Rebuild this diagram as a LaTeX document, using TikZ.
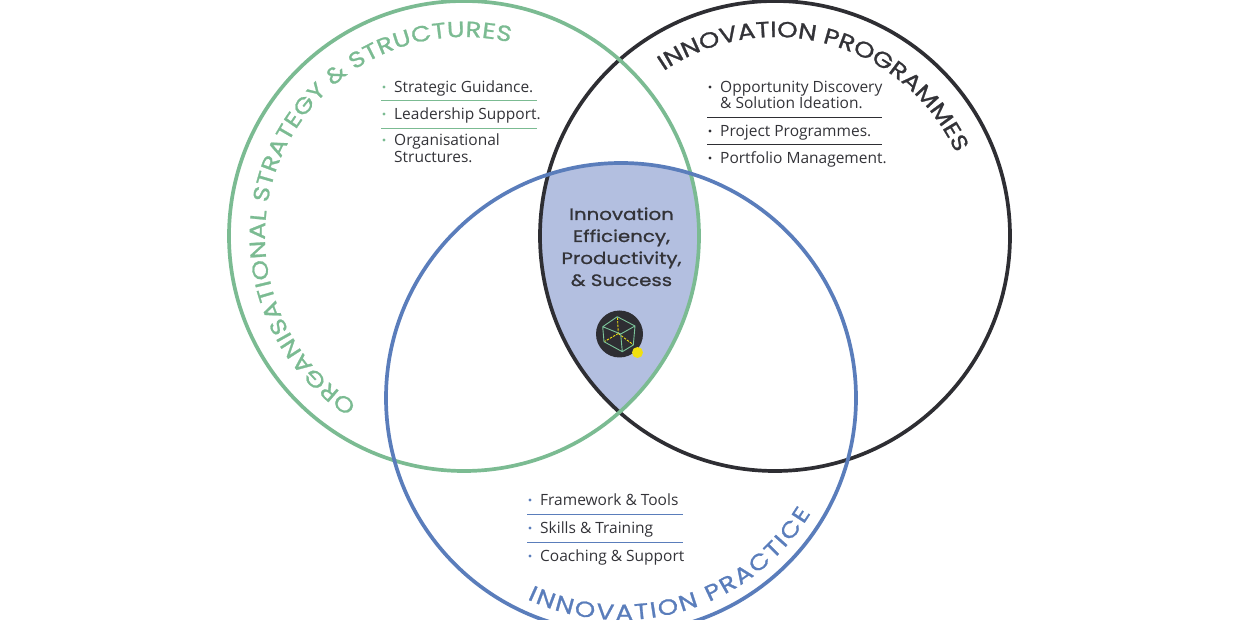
\documentclass[tikz,border=0pt]{standalone}
\usepackage{fontspec}
\setmainfont{Open Sans}
\newfontfamily\headfont[FakeStretch=1.19,FakeBold=1.1]{Poppins}
\newfontfamily\midfont[FakeStretch=1.2,FakeBold=0.9]{Poppins}
\usetikzlibrary{decorations.text}
\definecolor{cgreen}{HTML}{7BBB92}
\definecolor{cdark}{HTML}{2E2E33}
\definecolor{cblue}{HTML}{5A7DBB}
\definecolor{cfill}{HTML}{B3BFE0}
\definecolor{ctext}{HTML}{333338}
\definecolor{ccube}{HTML}{7BC49A}
\definecolor{cyel}{HTML}{F0E010}
\tikzset{
  x=1pt,y=-1pt,
  ring/.style={draw=#1,line width=3.7pt,circle,minimum size=470pt,inner sep=0pt},
  item/.style={anchor=base west,inner sep=0pt,font=\fontsize{15.5}{16}\selectfont,text=ctext,align=left},
  mid/.style={anchor=base,inner sep=0pt,font=\midfont\fontsize{16.5}{16}\selectfont,text=ctext,align=center},
  bul/.style={circle,fill=#1,minimum size=3.4pt,inner sep=0pt},
  rule/.style={draw=#1,line width=.9pt},
  arch/.style={decorate,decoration={text along path,text align=fit to path,text={#1}}},
  cubeline/.style={draw=ccube,line width=.9pt,line join=round},
  cubeaxis/.style={draw=cyel,line width=.9pt,dash pattern=on 2.4pt off 1.2pt},
}
\begin{document}
\begin{tikzpicture}
\useasboundingbox (0,0) rectangle (1240,620);
\coordinate (G) at (464,236);
\coordinate (D) at (775,236);
\coordinate (B) at (621,398);
% lens
\begin{scope}
  \clip (G) circle (235);
  \clip (D) circle (235);
  \fill[cfill] (B) circle (235);
\end{scope}
\node[ring=cdark] (ringD) at (D) {};
\node[ring=cgreen] (ringG) at (G) {};
\node[ring=cblue] (ringB) at (B) {};
% headings
\path[arch={|\headfont\fontsize{22}{22}\selectfont\color{cgreen}|ORGANISATIONAL STRATEGY {\&} STRUCTURES}]
  (G) ++(-237.5:199) arc[start angle=-237.5,end angle=-76.6,radius=199];
\path[arch={|\headfont\fontsize{22}{22}\selectfont\color{ctext}|INNOVATION PROGRAMMES}]
  (D) ++(-124:199) arc[start angle=-124,end angle=-25.5,radius=199];
\path[arch={|\headfont\fontsize{22}{22}\selectfont\color{cblue}|INNOVATION PRACTICE}]
  (B) ++(-245:222) arc[start angle=-245,end angle=-328.7,radius=222];
% green list
\node[item] (g1) at (394,92.7) {Strategic Guidance.};
\node[item] (g2) at (394,119.7) {Leadership Support.};
\node[item] (g3) at (394,145.3) {Organisational};
\node[item] (g4) at (394,162.7) {Structures.};
\node[bul=cgreen] (gb1) at (384,87) {};
\node[bul=cgreen] (gb2) at (384,114) {};
\node[bul=cgreen] (gb3) at (384,140) {};
\draw[rule=cgreen] (381,100.5) -- (537,100.5);
\draw[rule=cgreen] (381,128.5) -- (537,128.5);
% dark list
\node[item] (d1) at (720,108.7) {Opportunity Discovery\\\& Solution Ideation.};
\node[item] (d2) at (720,136.7) {Project Programmes.};
\node[item] (d3) at (720,163.7) {Portfolio Management.};
\node[bul=cdark] (db1) at (710,87) {};
\node[bul=cdark] (db2) at (710,131) {};
\node[bul=cdark] (db3) at (710,158) {};
\draw[rule=cdark] (707,117.5) -- (882,117.5);
\draw[rule=cdark] (707,144.5) -- (882,144.5);
% blue list
\node[item] (b1) at (540,505) {Framework \& Tools};
\node[item] (b2) at (540,533) {Skills \& Training};
\node[item] (b3) at (540,561) {Coaching \& Support};
\node[bul=cblue] (bb1) at (530,500) {};
\node[bul=cblue] (bb2) at (530,528) {};
\node[bul=cblue] (bb3) at (530,556) {};
\draw[rule=cblue] (527,514.5) -- (683,514.5);
\draw[rule=cblue] (527,542.5) -- (683,542.5);
% centre text
\node[mid] (m1) at (621.5,220) {Innovation};
\node[mid] (m2) at (621.5,242) {Efficiency,};
\node[mid] (m3) at (621.5,264) {Productivity,};
\node[mid] (m4) at (621.5,286) {\& Success};
% icon
\node[circle,fill=cdark,minimum size=47pt,inner sep=0pt] (icon) at (619.5,334) {};
\draw[cubeaxis] (617.5,317.5) -- (618.3,333.5) (618.3,333.5) -- (604.5,341.5) (618.3,333.5) -- (633,344.5);
\draw[cubeline] (617.3,316.7) -- (635,326) -- (633.3,345) -- (622.3,351.7) -- (604,341.7) -- (602.7,326.7) -- cycle
  (602.7,326.7) -- (620.7,334) -- (635,326) (620.7,334) -- (622.3,351.7);
\node[circle,fill=cyel,minimum size=11pt,inner sep=0pt] (dot) at (637.5,352.5) {};
\end{tikzpicture}
\end{document}
